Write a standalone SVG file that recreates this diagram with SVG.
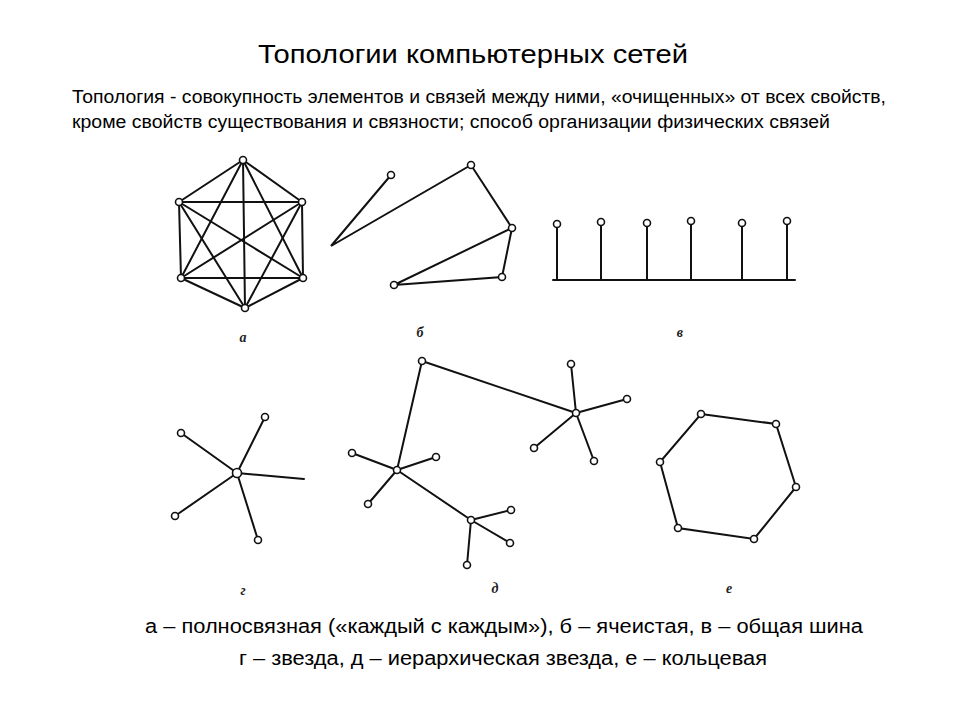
<svg xmlns="http://www.w3.org/2000/svg" width="960" height="720" viewBox="0 0 960 720">
<style>
.t{font-family:"Liberation Sans","Noto Sans",sans-serif;fill:#000}
.e line,.e polyline,.e polygon{stroke:#111;stroke-width:2;fill:none;stroke-linecap:round}
.n circle{fill:#fff;stroke:#111;stroke-width:1.6}
.lb{font-family:"Liberation Serif",serif;font-style:italic;font-weight:bold;font-size:14px;fill:#222;text-anchor:middle}
</style>
<rect width="960" height="720" fill="#fff"/>
<text class="t" x="473" y="63" font-size="26" text-anchor="middle" textLength="430" lengthAdjust="spacingAndGlyphs">Топологии компьютерных сетей</text>
<text class="t" x="72" y="103" font-size="18" textLength="814" lengthAdjust="spacingAndGlyphs">Топология - совокупность элементов и связей между ними, «очищенных» от всех свойств,</text>
<text class="t" x="72" y="128" font-size="18" textLength="758" lengthAdjust="spacingAndGlyphs">кроме свойств существования и связности; способ организации физических связей</text>

<g id="connectors" class="e">
<!-- а full mesh -->
<line x1="243" y1="160" x2="179" y2="202"/><line x1="243" y1="160" x2="302" y2="202"/><line x1="243" y1="160" x2="181" y2="278"/><line x1="243" y1="160" x2="303" y2="278"/><line x1="243" y1="160" x2="245" y2="308"/>
<line x1="179" y1="202" x2="302" y2="202"/><line x1="179" y1="202" x2="181" y2="278"/><line x1="179" y1="202" x2="303" y2="278"/><line x1="179" y1="202" x2="245" y2="308"/>
<line x1="302" y1="202" x2="181" y2="278"/><line x1="302" y1="202" x2="303" y2="278"/><line x1="302" y1="202" x2="245" y2="308"/>
<line x1="181" y1="278" x2="303" y2="278"/><line x1="181" y1="278" x2="245" y2="308"/>
<line x1="303" y1="278" x2="245" y2="308"/>
<!-- б mesh -->
<polyline points="391,175 331,246 471,165 512,228 394,285 502,277 512,228"/>
<!-- в bus -->
<line x1="553" y1="280" x2="795" y2="280" stroke-width="2.5"/>
<line x1="557" y1="224" x2="557" y2="280"/><line x1="601" y1="222" x2="601" y2="280"/><line x1="647" y1="223" x2="647" y2="280"/><line x1="691" y1="221" x2="691" y2="280"/><line x1="742" y1="223" x2="742" y2="280"/><line x1="787" y1="221" x2="787" y2="280"/>
<!-- г star -->
<line x1="237" y1="473" x2="265" y2="417"/><line x1="237" y1="473" x2="181" y2="433"/><line x1="237" y1="473" x2="175" y2="516"/><line x1="237" y1="473" x2="258" y2="540"/><line x1="237" y1="473" x2="304" y2="479"/>
<!-- д hierarchical star -->
<line x1="422" y1="361" x2="397" y2="470"/><line x1="422" y1="361" x2="576" y2="413"/><line x1="397" y1="470" x2="471" y2="520"/>
<line x1="397" y1="470" x2="352" y2="453"/><line x1="397" y1="470" x2="436" y2="457"/><line x1="397" y1="470" x2="368" y2="504"/>
<line x1="471" y1="520" x2="511" y2="510"/><line x1="471" y1="520" x2="510" y2="543"/><line x1="471" y1="520" x2="467" y2="565"/>
<line x1="576" y1="413" x2="571" y2="364"/><line x1="576" y1="413" x2="534" y2="448"/><line x1="576" y1="413" x2="594" y2="461"/><line x1="576" y1="413" x2="627" y2="399"/>
<!-- е ring -->
<polygon points="701,414 776,424 796,487 754,539 678,528 660,462"/>
</g>

<g id="fig-a" class="n">
<circle cx="243" cy="160" r="3.5"/><circle cx="179" cy="202" r="3.5"/><circle cx="302" cy="202" r="3.5"/><circle cx="181" cy="278" r="3.5"/><circle cx="303" cy="278" r="3.5"/><circle cx="245" cy="308" r="3.5"/>
<text class="lb" x="243" y="342">а</text>
</g>
<g id="fig-b" class="n">
<circle cx="391" cy="175" r="3.5"/><circle cx="471" cy="165" r="3.5"/><circle cx="512" cy="228" r="3.5"/><circle cx="502" cy="277" r="3.5"/><circle cx="394" cy="285" r="3.5"/>
<text class="lb" x="420" y="337">б</text>
</g>
<g id="fig-v" class="n">
<circle cx="557" cy="224" r="3.5"/><circle cx="601" cy="222" r="3.5"/><circle cx="647" cy="223" r="3.5"/><circle cx="691" cy="221" r="3.5"/><circle cx="742" cy="223" r="3.5"/><circle cx="787" cy="221" r="3.5"/>
<text class="lb" x="680" y="337">в</text>
</g>
<g id="fig-g" class="n">
<circle cx="237" cy="473" r="4.5"/><circle cx="265" cy="417" r="3.5"/><circle cx="181" cy="433" r="3.5"/><circle cx="175" cy="516" r="3.5"/><circle cx="258" cy="540" r="3.5"/>
<text class="lb" x="243" y="595">г</text>
</g>
<g id="fig-d" class="n">
<circle cx="422" cy="361" r="3.5"/><circle cx="397" cy="470" r="3.5"/><circle cx="471" cy="520" r="3.5"/><circle cx="576" cy="413" r="3.5"/>
<circle cx="352" cy="453" r="3.5"/><circle cx="436" cy="457" r="3.5"/><circle cx="368" cy="504" r="3.5"/>
<circle cx="511" cy="510" r="3.5"/><circle cx="510" cy="543" r="3.5"/><circle cx="467" cy="565" r="3.5"/>
<circle cx="571" cy="364" r="3.5"/><circle cx="534" cy="448" r="3.5"/><circle cx="594" cy="461" r="3.5"/><circle cx="627" cy="399" r="3.5"/>
<text class="lb" x="495" y="593">д</text>
</g>
<g id="fig-e" class="n">
<circle cx="701" cy="414" r="3.5"/><circle cx="776" cy="424" r="3.5"/><circle cx="796" cy="487" r="3.5"/><circle cx="754" cy="539" r="3.5"/><circle cx="678" cy="528" r="3.5"/><circle cx="660" cy="462" r="3.5"/>
<text class="lb" x="729" y="593">е</text>
</g>

<text class="t" x="145" y="633" font-size="20" textLength="718" lengthAdjust="spacingAndGlyphs">а – полносвязная («каждый с каждым»), б – ячеистая,  в – общая шина</text>
<text class="t" x="239" y="665" font-size="20" textLength="528" lengthAdjust="spacingAndGlyphs">г – звезда, д – иерархическая звезда, е – кольцевая</text>
</svg>
